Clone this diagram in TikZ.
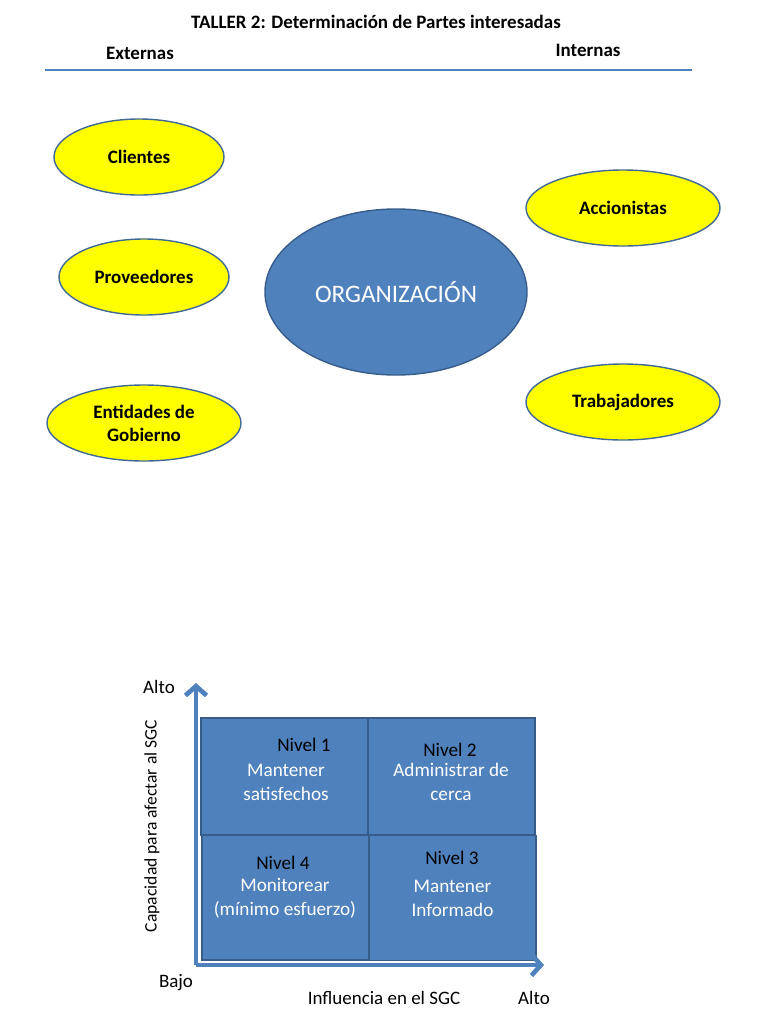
\documentclass[tikz,border=0pt]{standalone}
\usepackage{fontspec}
\setmainfont{Carlito}
\usetikzlibrary{positioning,arrows.meta,shapes.geometric}
\definecolor{TallerBlue}{RGB}{79,129,189}
\definecolor{TallerEdge}{RGB}{56,93,138}
\definecolor{TallerYellow}{RGB}{255,255,0}
\definecolor{TallerRing}{RGB}{65,105,150}
\tikzset{
  taller party/.style={
    ellipse,
    draw=TallerRing,
    line width=1.2pt,
    fill=TallerYellow,
    inner sep=0pt,
    align=center,
    font=\fontsize{16.2}{19.5}\selectfont\bfseries,
    minimum width=5.1cm,
    minimum height=2.28cm
  },
  taller wide/.style={taller party, minimum width=5.82cm},
  taller org/.style={ellipse, draw=TallerEdge, line width=1.2pt, fill=TallerBlue, text=white,
    inner sep=0pt, font=\fontsize{21.5}{25}\selectfont, minimum width=7.86cm, minimum height=4.98cm},
  taller head/.style={font=\fontsize{16.2}{19}\selectfont\bfseries},
  taller cell/.style={draw=TallerEdge, line width=1.5pt, fill=TallerBlue, inner sep=0pt,
    minimum width=5.01cm},
  taller nivel/.style={font=\fontsize{16.4}{20.4}\selectfont, text=black},
  taller action/.style={font=\fontsize{16.4}{20.4}\selectfont, text=white, align=center},
  taller axis/.style={-{Straight Barb[length=8pt,width=18pt]}, line width=4pt, TallerBlue},
  taller label/.style={font=\fontsize{16.2}{19}\selectfont}
}
\begin{document}
\begin{tikzpicture}[x=0.03cm,y=-0.03cm]
\useasboundingbox (0,0) rectangle (768,1024);
% encabezado
\node[taller head] (title) at (376,22) {TALLER 2: Determinación de Partes interesadas};
\node[taller head] (ext) at (140,53) {Externas};
\node[taller head] (int) at (588,50) {Internas};
\coordinate (lineL) at (45,70);
\coordinate (lineR) at (692,70);
\draw[TallerBlue, line width=2.5pt] (lineL) -- (lineR);
% partes interesadas
\node[taller party] (cli) at (139,157) {Clientes};
\node[taller party] (prov) at (144,277) {Proveedores};
\node[taller wide] (gob) at (144,423) {Entidades de\\Gobierno};
\node[taller org] (org) at (396,292) {ORGANIZACIÓN};
\node[taller wide] (acc) at (623,208) {Accionistas};
\node[taller wide] (trab) at (623,402) {Trabajadores};
% matriz
\node[taller cell, minimum height=3.51cm] (c1) at (284.5,776.5) {};
\node[taller cell, minimum height=3.51cm] (c2) at (451.5,776.5) {};
\node[taller cell, minimum height=3.75cm] (c4) at (285.5,897.5) {};
\node[taller cell, minimum height=3.75cm] (c3) at (452.5,898) {};
\node[taller nivel] (n1) at (304,745) {Nivel 1};
\node[taller action] (a1) at (286,782) {Mantener\\satisfechos};
\node[taller nivel] (n2) at (450,750) {Nivel 2};
\node[taller action] (a2) at (451,782) {Administrar de\\cerca};
\node[taller nivel] (n4) at (283,863) {Nivel 4};
\node[taller action] (a4) at (285,898.5) {Monitorear\\(mínimo esfuerzo)};
\node[taller nivel] (n3) at (452,858) {Nivel 3};
\node[taller action] (a3) at (452.5,898.5) {Mantener\\Informado};
% ejes
\coordinate (origin) at (196,965);
\coordinate (ytop) at (196,683);
\coordinate (xend) at (544,965);
\draw[taller axis] (origin) -- (ytop);
\draw[taller axis] (origin) -- (xend);
\node[taller label] (yalto) at (159,687) {Alto};
\node[taller label] (bajo) at (176,983) {Bajo};
\node[taller label] (xlab) at (384,998) {Influencia en el SGC};
\node[taller label] (xalto) at (534,998) {Alto};
\node[taller label, font=\fontsize{15}{18}\selectfont, rotate=90] (ylab) at (152,826) {Capacidad para afectar al SGC};
\end{tikzpicture}
\end{document}
